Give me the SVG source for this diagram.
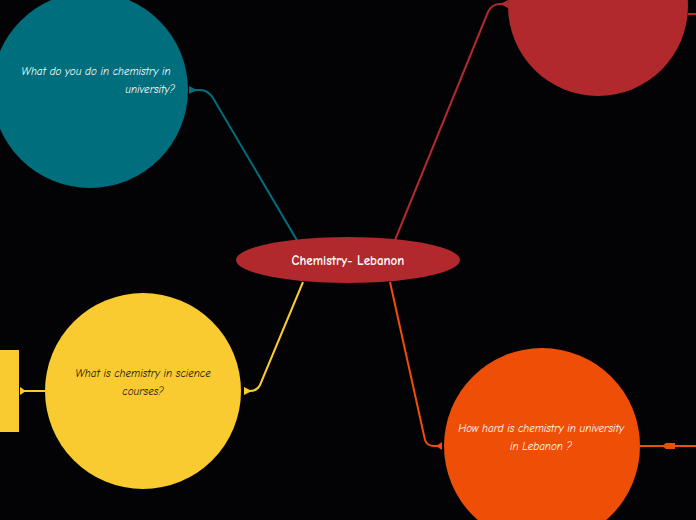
<svg xmlns="http://www.w3.org/2000/svg" width="696" height="520" viewBox="0 0 696 520">
<style>
.t{font-family:"Comic Neue","Liberation Sans",sans-serif;font-style:italic;font-size:11px;text-anchor:middle}
.c{fill:none;stroke-width:2}
</style>
<rect width="696" height="520" fill="#030305"/>
<g id="connectors">
<path class="c" stroke="#006e7c" d="M298,242 L213,98 Q208,90 200,90 L190,90"/>
<polygon points="189,86 197,90 189,94" fill="#006e7c"/>
<path class="c" stroke="#b1292c" d="M395,240 L488,12 Q492,4 500,4 L508,4"/>
<polygon points="508,0 500,4 508,8" fill="#b1292c"/>
<path class="c" stroke="#f9cb30" d="M303,282 L260,385 Q257,391 250,391 L244,391"/>
<polygon points="244,387 252,391 244,395" fill="#f9cb30"/>
<path class="c" stroke="#f9cb30" d="M45,391 L20,391"/>
<polygon points="20,387 26,391 20,395" fill="#f9cb30"/>
<path class="c" stroke="#ef4e07" d="M390,282 L425,440 Q427,446 434,446 L442,446"/>
<polygon points="442,442 436,446 442,450" fill="#ef4e07"/>
<path class="c" stroke="#ef4e07" d="M640,446 L696,446"/>
<path fill="#ef4e07" d="M662,446 L666,443 L675,443 L675,449 L666,449 Z"/>
<path stroke="#b1292c" stroke-width="2" d="M688,14 L696,14"/>
</g>
<g id="central">
<ellipse cx="348" cy="260" rx="112" ry="23" fill="#b1292c"/>
<text x="348" y="264.5" font-family="'Comic Neue','Liberation Sans',sans-serif" font-weight="bold" font-size="13" fill="#fff" text-anchor="middle">Chemistry- Lebanon</text>
</g>
<g id="n1">
<circle cx="90" cy="90" r="98" fill="#006e7c"/>
<text class="t" fill="#fff"><tspan x="96" y="75">What do you do in chemistry in</tspan><tspan x="150" y="93">university?</tspan></text>
</g>
<g id="n2">
<circle cx="598" cy="6" r="90" fill="#b1292c"/>
</g>
<g id="n3">
<rect x="0" y="350" width="19" height="82" fill="#f9cb30"/>
<circle cx="143" cy="391" r="98" fill="#f9cb30"/>
<text class="t" fill="#111"><tspan x="143" y="377">What is chemistry in science</tspan><tspan x="143" y="395">courses?</tspan></text>
</g>
<g id="n4">
<circle cx="542" cy="446" r="98" fill="#ef4e07"/>
<text class="t" fill="#fff"><tspan x="541" y="432">How hard is chemistry in university</tspan><tspan x="541" y="450">in Lebanon ?</tspan></text>
</g>
</svg>
